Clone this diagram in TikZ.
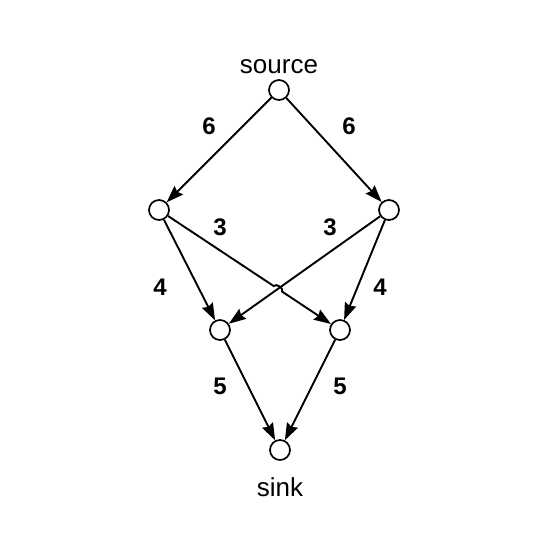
\documentclass[tikz,border=0pt]{standalone}
\usepackage{fontspec}
\setmainfont{Liberation Sans}
\usetikzlibrary{arrows.meta,calc}
\begin{document}
\begin{tikzpicture}[x=1pt,y=-1pt,
  vtx/.style={circle,draw,line width=1.7pt,minimum size=20pt,inner sep=0pt,fill=white},
  edge/.style={line width=1.9pt,-{Stealth[length=17pt,width=12pt,inset=2pt]}},
  wlabel/.style={font=\fontsize{24}{24}\selectfont\bfseries},
  tlabel/.style={font=\fontsize{26}{26}\selectfont}]
\useasboundingbox (0,0) rectangle (540,560);
\node[vtx] (s) at (279,90) {};
\node[vtx] (a) at (159,210) {};
\node[vtx] (b) at (389,210) {};
\node[vtx] (c) at (220,330) {};
\node[vtx] (d) at (340,330) {};
\node[vtx] (t) at (280,450) {};
\node[tlabel] (ls) at (279,67) {source};
\node[tlabel] (lt) at (280,487) {sink};
\coordinate (x) at (intersection of 159,210--340,330 and 389,210--220,330);
\coordinate (h1) at ($(x)!5pt!(a)$);
\coordinate (h2) at ($(x)!5pt!(d)$);
\draw[edge] (s) -- (a);
\draw[edge] (s) -- (b);
\draw[edge] (b) -- (c);
\draw[edge] (a) -- (h1) to[bend left=90] (h2) -- (d);
\draw[edge] (a) -- (c);
\draw[edge] (b) -- (d);
\draw[edge] (c) -- (t);
\draw[edge] (d) -- (t);
\node[wlabel] (w1) at (209,126) {6};
\node[wlabel] (w2) at (349,126) {6};
\node[wlabel] (w3) at (220,227) {3};
\node[wlabel] (w4) at (330,227) {3};
\node[wlabel] (w5) at (160,287) {4};
\node[wlabel] (w6) at (380,287) {4};
\node[wlabel] (w7) at (220,386) {5};
\node[wlabel] (w8) at (340,386) {5};
\end{tikzpicture}
\end{document}
